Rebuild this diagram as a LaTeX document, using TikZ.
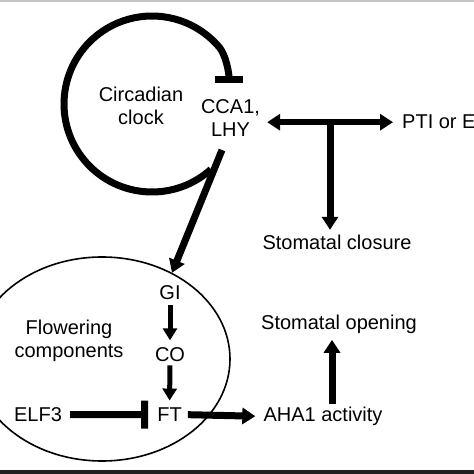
\documentclass[tikz,border=0pt]{standalone}
\usepackage{fontspec}
\setmainfont{Liberation Sans}
\usetikzlibrary{arrows.meta}
\definecolor{rulegray}{RGB}{196,196,196}
\definecolor{darkrule}{RGB}{34,34,34}
\tikzset{
  lbl/.style={font=\fontsize{20}{23}\selectfont, align=center, inner sep=3pt},
  pathway/.style={line width=7pt, -{Triangle[length=13pt,width=16pt]}},
  minor/.style={line width=5pt, -{Triangle[length=12pt,width=14pt]}},
  both/.style={line width=6pt, {Triangle[length=13pt,width=16pt]}-{Triangle[length=13pt,width=16pt]}},
  blocker/.style={line width=7pt, -{Bar[width=28pt]}},
}

\begin{document}
\begin{tikzpicture}[x=1pt,y=1pt]
\useasboundingbox (0,0) rectangle (474,474);
\fill[rulegray] (0,472) rectangle (474,474);
\fill[darkrule] (0,0) rectangle (474,3.5);
\draw[line width=1.6pt] (102,115) ellipse [x radius=128pt, y radius=102pt]; % flowering
\node[lbl] (clock) at (141,368) {Circadian\\clock};
\node[lbl] (cca) at (230.5,355.5) {CCA1,\\LHY};
\node[lbl,anchor=base west] (pti) at (399,345) {PTI or E};
\node[lbl,anchor=base] (closure) at (337,224.5) {Stomatal closure};
\node[lbl,anchor=base] (opening) at (339,144.5) {Stomatal opening};
\node[lbl] (flower) at (69,133) {Flowering\\components};
\node[lbl,anchor=base] (gi) at (170,174) {GI};
\node[lbl,anchor=base] (co) at (170,112) {CO};
\node[lbl,anchor=base] (ft) at (169.5,52.5) {FT};
\node[lbl,anchor=base] (elf) at (38,52.5) {ELF3};
\node[lbl,anchor=base] (aha) at (323,52.5) {AHA1 activity};
\coordinate (dial) at (152,370);
\coordinate (tee) at ([shift={(-1.5pt,14pt)}]cca.north);
\coordinate (clkout) at (222,324);
\coordinate (fork) at (330,352);
% clock loop
\draw[line width=7pt, -{Bar[width=28pt]}] (dial) ++(-48:88pt)
  arc[start angle=-48, end angle=-320, radius=88pt]
  .. controls +(-50:10pt) and +(0,10pt) .. (tee);
\draw[pathway] (clkout) -- ([shift={(2pt,10pt)}]gi.north);
\draw[both, shorten <=4pt, shorten >=6pt] (cca.east |- pti.west) -- (pti.west);
\draw[pathway, shorten >=2pt] (fork) -- (fork |- closure.north);
\draw[minor, shorten <=2pt, shorten >=4.5pt] (gi) -- (co);
\draw[minor, shorten >=4pt] (co) -- (ft);
\draw[blocker, shorten <=5pt, shorten >=6pt] (elf.east) -- (ft.west);
\draw[pathway, shorten <=3pt, shorten >=5pt] (ft.east) -- (aha.west);
\draw[pathway, shorten >=3pt] ([xshift=9pt]aha.north) -- ([xshift=9pt]aha.north |- opening.south);
\end{tikzpicture}
\end{document}
